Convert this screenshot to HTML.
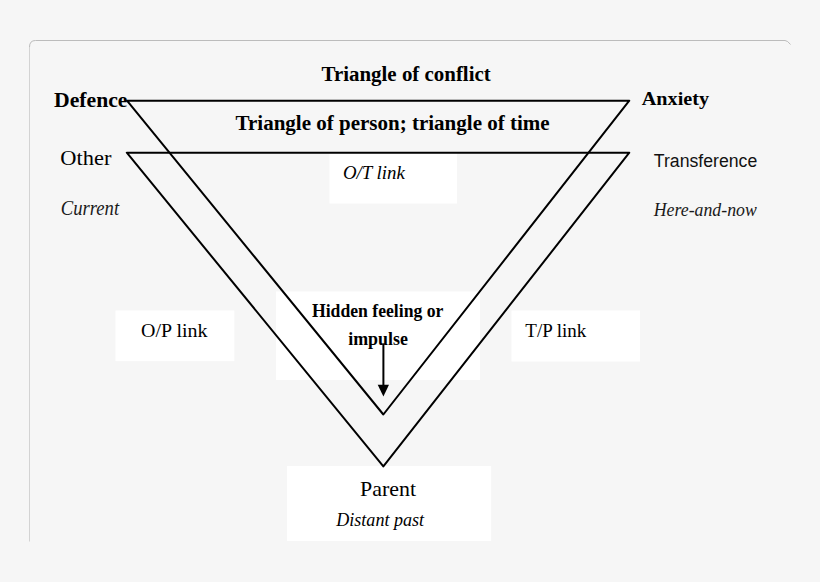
<!DOCTYPE html>
<html><head><meta charset="utf-8"><style>
html,body{margin:0;padding:0;background:#f6f6f6;overflow:hidden;width:820px;height:582px;}
svg{display:block;}
</style></head><body>
<svg width="820" height="582" viewBox="0 0 820 582">
<rect x="0" y="0" width="820" height="582" fill="#f6f6f6"/>
<path d="M29.5 541.5 V46.5" fill="none" stroke="#d3d3d3" stroke-width="1"/>
<path d="M29.5 47 Q29.5 40.5 35.5 40.5 H785 Q787.5 40.5 790.5 44.5" fill="none" stroke="#bcbcbc" stroke-width="1"/>
<rect x="329.5" y="153" width="127.5" height="50.5" fill="#fff"/>
<rect x="115.5" y="310.5" width="118.9" height="50.7" fill="#fff"/>
<rect x="276" y="291.5" width="204.0" height="88.5" fill="#fff"/>
<rect x="511.5" y="310.5" width="128.5" height="51.0" fill="#fff"/>
<rect x="287" y="466" width="204.2" height="75.0" fill="#fff"/>
<g fill="none" stroke="#000" stroke-width="2" stroke-linejoin="round" stroke-linecap="round">
<path d="M127 100.7 H629.3 L383.35 414.5 Z"/>
<path d="M126.8 152.7 H629.3 L383.35 466.4 Z"/>
<path d="M383.4 343.5 V386" stroke-linecap="butt"/>
</g>
<path d="M377.7 384.7 H389 L383.4 396.5 Z" fill="#000"/>
<text transform="translate(321.51 80.5) scale(0.9735 1)" font-family="'Liberation Serif', serif" font-size="21.5" font-weight="bold" font-style="normal" fill="#000">Triangle of conflict</text>
<text transform="translate(54.00 106.8) scale(1.0097 1)" font-family="'Liberation Serif', serif" font-size="21.5" font-weight="bold" font-style="normal" fill="#000">Defence</text>
<text transform="translate(641.79 104.6) scale(1.0341 1)" font-family="'Liberation Serif', serif" font-size="19.5" font-weight="bold" font-style="normal" fill="#000">Anxiety</text>
<text transform="translate(235.51 129.7) scale(0.9779 1)" font-family="'Liberation Serif', serif" font-size="21.5" font-weight="bold" font-style="normal" fill="#000">Triangle of person; triangle of time</text>
<text transform="translate(60.36 164.9) scale(1.0438 1)" font-family="'Liberation Serif', serif" font-size="21.5" font-weight="normal" font-style="normal" fill="#000">Other</text>
<text transform="translate(653.82 166.8) scale(0.9508 1)" font-family="'Liberation Sans', sans-serif" font-size="18.6" font-weight="normal" font-style="normal" fill="#111">Transference</text>
<text transform="translate(60.77 215.3) scale(0.9321 1)" font-family="'Liberation Serif', serif" font-size="20" font-weight="normal" font-style="italic" fill="#1a1a1a">Current</text>
<text transform="translate(653.79 215.8) scale(0.9555 1)" font-family="'Liberation Serif', serif" font-size="18.6" font-weight="normal" font-style="italic" fill="#1a1a1a">Here-and-now</text>
<text transform="translate(342.94 178.9) scale(0.9608 1)" font-family="'Liberation Serif', serif" font-size="19.6" font-weight="normal" font-style="italic" fill="#000">O/T link</text>
<text transform="translate(141.06 336.7) scale(1.0513 1)" font-family="'Liberation Serif', serif" font-size="19" font-weight="normal" font-style="normal" fill="#000">O/P link</text>
<text transform="translate(525.30 336.9) scale(1.0000 1)" font-family="'Liberation Serif', serif" font-size="19" font-weight="normal" font-style="normal" fill="#000">T/P link</text>
<text transform="translate(311.91 317.0) scale(0.9820 1)" font-family="'Liberation Serif', serif" font-size="18" font-weight="bold" font-style="normal" fill="#000">Hidden feeling or</text>
<text transform="translate(348.20 344.9) scale(0.9966 1)" font-family="'Liberation Serif', serif" font-size="18" font-weight="bold" font-style="normal" fill="#000">impulse</text>
<text transform="translate(359.99 495.9) scale(1.0203 1)" font-family="'Liberation Serif', serif" font-size="21.5" font-weight="normal" font-style="normal" fill="#000">Parent</text>
<text transform="translate(336.29 526.3) scale(0.9505 1)" font-family="'Liberation Serif', serif" font-size="19" font-weight="normal" font-style="italic" fill="#000">Distant past</text>
</svg>
</body></html>
